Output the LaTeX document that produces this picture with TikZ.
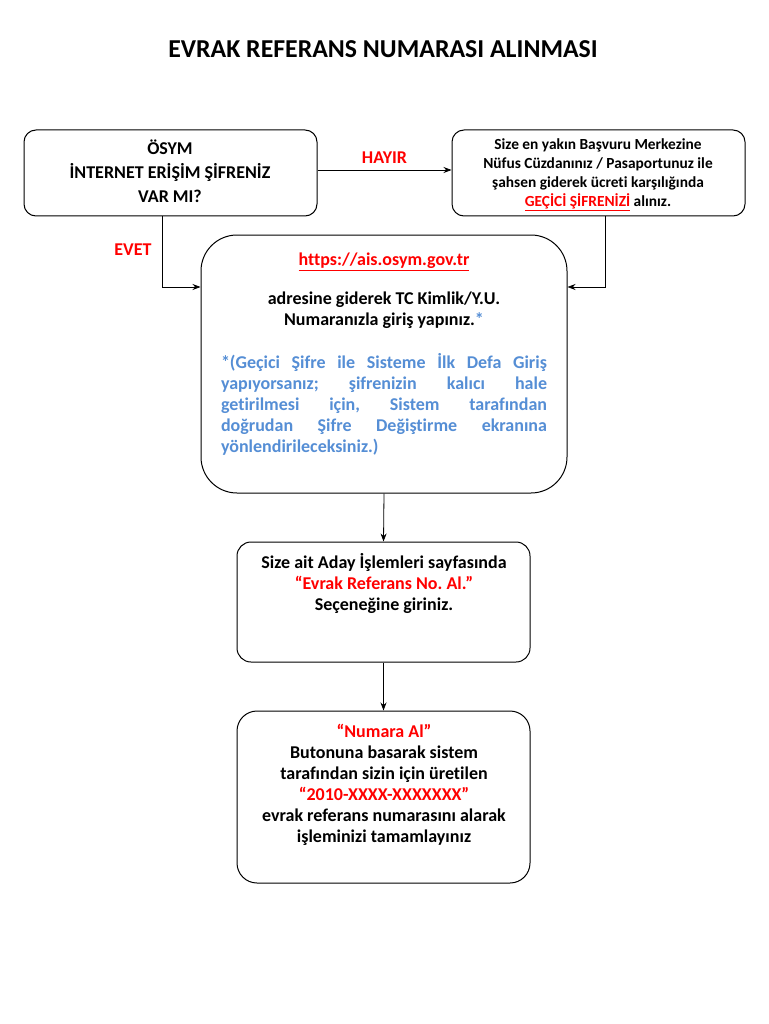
\documentclass[tikz,border=0pt]{standalone}
\usepackage{fontspec}
\setmainfont{Carlito}[Ligatures=NoCommon]
\usetikzlibrary{arrows.meta}
\definecolor{myred}{RGB}{255,0,0}
\definecolor{myblue}{RGB}{85,142,213}
\newcommand\fTitle{\fontsize{25.8}{30}\selectfont\bfseries}
\newcommand\fA{\fontsize{18}{24}\selectfont\bfseries}
\newcommand\fB{\fontsize{15.4}{19}\selectfont\bfseries}
\newcommand\fC{\fontsize{18}{21}\selectfont\bfseries}
\frenchspacing
\begin{document}
\begin{tikzpicture}[x=1pt,y=-1pt,
  box/.style={draw=black, line width=1pt, inner sep=0pt},
  txt/.style={align=center, inner sep=0pt},
  lbl/.style={inner sep=0pt, text=myred, font=\fC},
  arr/.style={-{Stealth[length=8pt,width=6pt]}, line width=0.8pt}]
\useasboundingbox (0,0) rectangle (768,1024);
\fill[white] (0,0) rectangle (768,1024);

\node[txt, font=\fTitle] (title) at (383,49) {EVRAK REFERANS NUMARASI ALINMASI};

% boxes
\node[box, rounded corners=12pt, minimum width=293pt, minimum height=86pt] (b1) at (170.5,173) {};
\node[box, rounded corners=12pt, minimum width=293pt, minimum height=86pt] (b2) at (598.5,173) {};
\node[box, rounded corners=36pt, minimum width=366pt, minimum height=258pt] (b3) at (384,364) {};
\node[box, rounded corners=14pt, minimum width=293pt, minimum height=120pt] (b4) at (383.5,602) {};
\node[box, rounded corners=20pt, minimum width=293pt, minimum height=172pt] (b5) at (383.5,797) {};

% texts
\node[txt, font=\fA] (t1) at (170,171) {ÖSYM\\İNTERNET ERİŞİM ŞİFRENİZ\\VAR MI?};
\node[txt, font=\fB] (t2) at (598,175) {Size en yakın Başvuru Merkezine\\Nüfus Cüzdanınız / Pasaportunuz ile\\şahsen giderek ücreti karşılığında\\{\color{myred}\underline{GEÇİCİ ŞİFRENİZİ}} alınız.};
\node[txt, font=\fC, text=myred] (t3a) at (384,262) {\underline{https://ais.osym.gov.tr}};
\node[txt, font=\fC] (t3b) at (384,310.5) {adresine giderek TC Kimlik/Y.U.\\Numaranızla giriş yapınız.{\color{myblue}*}};
\node[inner sep=0pt, font=\fC, text=myblue, text width=326pt, align=justify] (t3c) at (384,404.5)
  {*(Geçici Şifre ile Sisteme İlk Defa Giriş\linebreak yapıyorsanız; şifrenizin kalıcı hale\linebreak getirilmesi için, Sistem tarafından\linebreak doğrudan Şifre Değiştirme ekranına\linebreak yönlendirileceksiniz.)};
\node[txt, font=\fC] (t4) at (384,583) {Size ait Aday İşlemleri sayfasında\\{\color{myred}“Evrak Referans No. Al.”}\\Seçeneğine giriniz.};
\node[txt, font=\fC] (t5) at (384,784.5) {{\color{myred}“Numara Al”}\\Butonuna basarak sistem\\tarafından sizin için üretilen\\{\color{myred}“2010-XXXX-XXXXXXX”}\\evrak referans numarasını alarak\\işleminizi tamamlayınız};

% connectors
\draw[arr] ([yshift=3pt]b1.east) -- node[lbl, above=6pt] (hayir) {HAYIR} ([yshift=3pt]b2.west);
\draw[arr] ([xshift=-8.5pt]b1.south) |- ([yshift=77pt]b3.west);
\node[lbl] (evet) at (133,250) {EVET};
\draw[arr] ([xshift=6.5pt]b2.south) |- ([yshift=77pt]b3.east);
\draw[arr] (b3.south) -- (b4.north);
\draw[arr] (b4.south) -- (b5.north);
\end{tikzpicture}
\end{document}
